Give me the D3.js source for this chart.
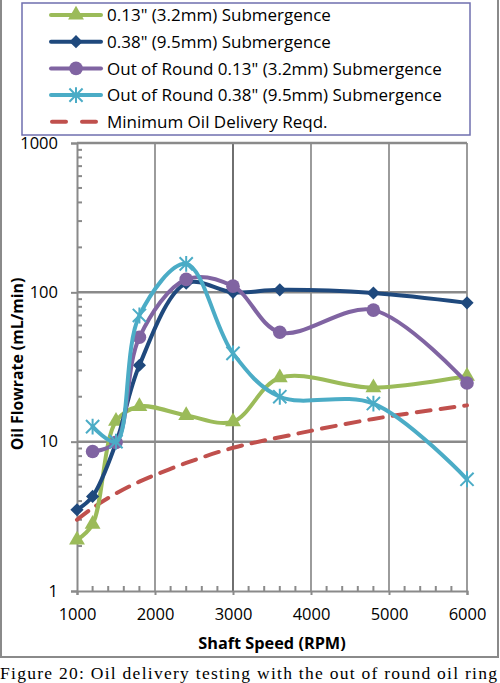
<!DOCTYPE html>
<html>
<head>
<meta charset="utf-8">
<script src="https://cdn.jsdelivr.net/npm/d3@7"></script>
<style>
  body { margin: 0; background: #fff; }
  svg { display: block; font-family: "Open Sans", Lato, sans-serif; }
</style>
</head>
<body>
<svg id="chart" width="500" height="683"></svg>
<script>
    // shaft speeds (RPM) where the tests were run
    var speeds = [1000, 1200, 1500, 1800, 2400, 3000, 3600, 4800, 6000];

    var sub013 = [2.2, 2.8, 13.7, 17.2, 15.0, 13.6, 26.8, 23.0, 27.5];
    var sub038 = [3.5, 4.3, 9.8, 32.5, 115, 100, 104, 99, 85];
    var oor013 = [null, 8.6, 9.9, 50, 122, 110, 54, 76, 24.7];
    var oor038 = [null, 12.6, 10, 70, 155, 39, 20, 18, 5.6];
    var minOil = [3.0, 3.6, 4.5, 5.4, 7.2, 9.1, 10.7, 14.2, 17.5];

    var seriesNames = [
      '0.13" (3.2mm) Submergence',
      '0.38" (9.5mm) Submergence',
      'Out of Round 0.13" (3.2mm) Submergence',
      'Out of Round 0.38" (9.5mm) Submergence',
      'Minimum Oil Delivery Reqd.'
    ];
    var xTicks = [1000, 2000, 3000, 4000, 5000, 6000];
    var yTicks = [1, 10, 100, 1000];

    var series = [
      { name: seriesNames[0], values: sub013, color: '#9BBB59', marker: 'triangle' },
      { name: seriesNames[1], values: sub038, color: '#1F497D', marker: 'diamond' },
      { name: seriesNames[2], values: oor013, color: '#8064A2', marker: 'circle' },
      { name: seriesNames[3], values: oor038, color: '#4BACC6', marker: 'star' },
      { name: seriesNames[4], values: minOil, color: '#C0504D', marker: 'none', dash: '14,10' }
    ];

    var svg = d3.select("#chart");

    var x = d3.scaleLinear().domain([1000, 6000]).range([77, 467]);
    var y = d3.scaleLog().domain([1, 1000]).range([591, 143]);

    // outer chart frame
    svg.append("rect")
      .attr("x", 1).attr("y", -4).attr("width", 497).attr("height", 661)
      .attr("fill", "none").attr("stroke", "#8a8a8a").attr("stroke-width", 2);

    // grid
    var grid = svg.append("g");
    grid.selectAll("line.v")
      .data(xTicks.slice(1))
      .enter().append("line")
      .attr("x1", function(d) { return x(d); })
      .attr("x2", function(d) { return x(d); })
      .attr("y1", y(1000)).attr("y2", y(1))
      .attr("stroke", function(d) { return d === 3000 ? "#222" : "#666"; })
      .attr("stroke-width", 1.3);
    grid.selectAll("line.h")
      .data(yTicks.slice(1))
      .enter().append("line")
      .attr("x1", x(1000)).attr("x2", x(6000))
      .attr("y1", function(d) { return y(d); })
      .attr("y2", function(d) { return y(d); })
      .attr("stroke", "#8a8a8a")
      .attr("stroke-width", 2.5);

    // y axis: major ticks out, minor ticks in
    var yAxis = svg.append("g").attr("transform", "translate(" + x(1000) + ",0)");
    yAxis.call(d3.axisLeft(y).tickValues(yTicks).tickFormat(d3.format("d")).tickSize(6).tickPadding(13));
    var yMinor = [];
    [1, 10, 100].forEach(function(dec) { for (var k = 2; k <= 9; k++) yMinor.push(dec * k); });
    yAxis.selectAll("line.minor")
      .data(yMinor)
      .enter().append("line")
      .attr("class", "minor")
      .attr("x1", 0).attr("x2", 5)
      .attr("y1", function(d) { return y(d); })
      .attr("y2", function(d) { return y(d); });

    // x axis: minor ticks every 200 rpm pointing up
    var xAxis = svg.append("g").attr("transform", "translate(0," + y(1) + ")");
    xAxis.call(d3.axisBottom(x).tickValues(xTicks).tickFormat(d3.format("d")).tickSize(4).tickPadding(13));
    xAxis.selectAll("line.minor")
      .data(d3.range(1200, 6000, 200).filter(function(d) { return d % 1000 !== 0; }))
      .enter().append("line")
      .attr("class", "minor")
      .attr("x1", function(d) { return x(d); })
      .attr("x2", function(d) { return x(d); })
      .attr("y1", 0).attr("y2", -5);

    svg.selectAll(".domain, .tick line, line.minor")
      .attr("stroke", "#8a8a8a").attr("stroke-width", 2);
    svg.selectAll(".tick text")
      .attr("font-family", "'Open Sans', sans-serif")
      .attr("font-size", 16.5)
      .attr("fill", "#000");

    // axis titles
    svg.append("text")
      .attr("x", 272).attr("y", 649)
      .attr("text-anchor", "middle")
      .attr("font-weight", "bold").attr("font-size", 16.3)
      .text("Shaft Speed (RPM)");
    svg.append("text")
      .attr("transform", "translate(23,364) rotate(-90)")
      .attr("text-anchor", "middle")
      .attr("font-weight", "bold").attr("font-size", 15.8)
      .text("Oil Flowrate (mL/min)");

    // markers
    function drawMarker(g, type, color, size) {
      if (type === 'circle') {
        g.append("circle").attr("r", size * 0.62).attr("fill", color);
      } else if (type === 'triangle') {
        g.append("path").attr("d", d3.symbol(d3.symbolTriangle, size * size * 0.9)()).attr("fill", color);
      } else if (type === 'diamond') {
        var s = size * 0.6;
        g.append("path").attr("d", "M0," + (-s) + "L" + s + ",0L0," + s + "L" + (-s) + ",0Z").attr("fill", color);
      } else if (type === 'star') {
        var r = size * 0.6;
        g.append("path")
          .attr("d", "M" + (-r) + "," + (-r) + "L" + r + "," + r + "M" + (-r) + "," + r + "L" + r + "," + (-r) + "M0," + (-r * 1.2) + "L0," + (r * 1.2))
          .attr("stroke", color).attr("stroke-width", 2).attr("fill", "none");
      }
    }

    // series lines
    var line = d3.line()
      .defined(function(d) { return d.v != null; })
      .x(function(d) { return x(d.s); })
      .y(function(d) { return y(d.v); })
      .curve(d3.curveCatmullRom.alpha(0.5));

    var drawOrder = [4, 0, 1, 2, 3];
    drawOrder.forEach(function(i) {
      var s = series[i];
      var pts = speeds.map(function(sp, j) { return { s: sp, v: s.values[j] }; });
      svg.append("path")
        .datum(pts)
        .attr("d", line)
        .attr("fill", "none")
        .attr("stroke", s.color)
        .attr("stroke-width", 4)
        .attr("stroke-linecap", "round")
        .attr("stroke-dasharray", s.dash || null);
      pts.filter(function(d) { return d.v != null; }).forEach(function(d) {
        var g = svg.append("g").attr("transform", "translate(" + x(d.s) + "," + y(d.v) + ")");
        drawMarker(g, s.marker, s.color, 11);
      });
    });

    // legend
    var legend = svg.append("g");
    legend.append("rect")
      .attr("x", 22).attr("y", 3).attr("width", 448).attr("height", 132)
      .attr("fill", "#fff").attr("stroke", "#6f6faf").attr("stroke-width", 1.5);
    series.forEach(function(s, i) {
      var ly = 15 + i * 26.7;
      var row = legend.append("g").attr("transform", "translate(0," + ly + ")");
      if (s.dash) {
        row.append("line").attr("x1", 52).attr("x2", 101).attr("y1", 0).attr("y2", 0)
          .attr("stroke", s.color).attr("stroke-width", 4).attr("stroke-linecap", "round")
          .attr("stroke-dasharray", "14,16");
      } else {
        row.append("line").attr("x1", 51).attr("x2", 101).attr("y1", 0).attr("y2", 0)
          .attr("stroke", s.color).attr("stroke-width", 4).attr("stroke-linecap", "round");
        var mg = row.append("g").attr("transform", "translate(76,0)");
        drawMarker(mg, s.marker, s.color, 11);
      }
      row.append("text")
        .attr("x", 107).attr("y", 0).attr("dy", "0.36em")
        .attr("font-size", 17)
        .text(s.name);
    });

    // caption
    svg.append("text")
      .attr("x", 0).attr("y", 679)
      .attr("font-family", "'Liberation Serif', 'DejaVu Serif', serif")
      .attr("font-size", 17.5)
      .attr("textLength", 497).attr("lengthAdjust", "spacing")
      .text("Figure 20: Oil delivery testing with the out of round oil ring");
</script>
</body>
</html>
